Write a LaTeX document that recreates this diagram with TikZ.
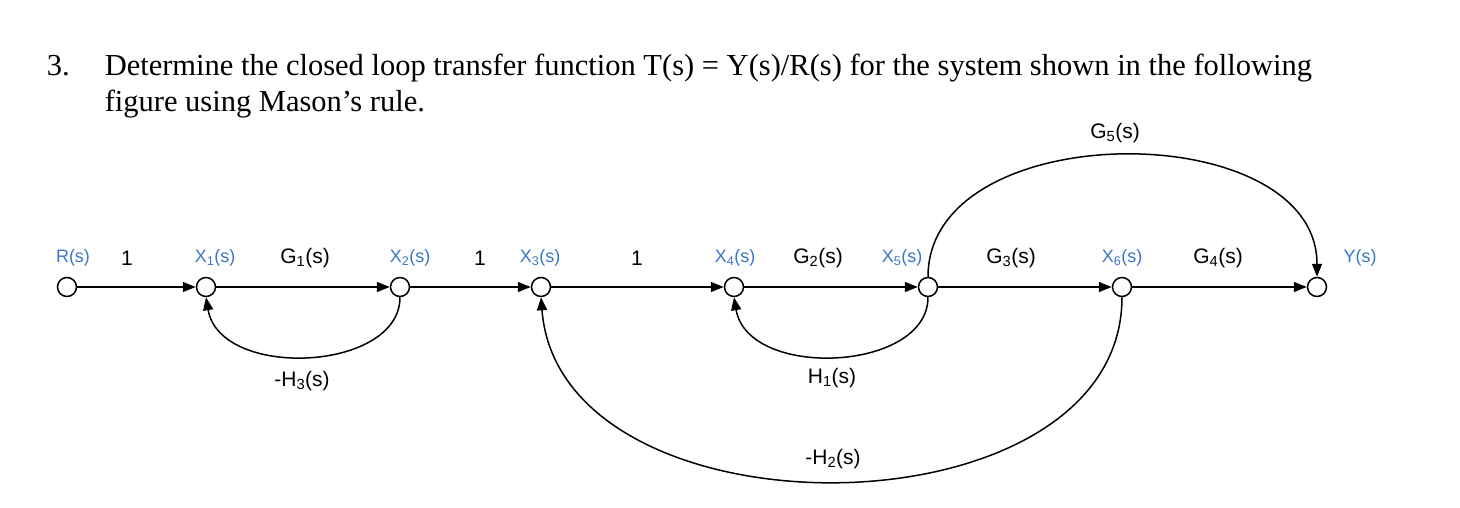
\documentclass[tikz,border=0pt]{standalone}
\usepackage{fontspec}
\setmainfont{Liberation Serif}
\newfontfamily\diagf{Liberation Sans}
\usetikzlibrary{arrows.meta}
\definecolor{lblue}{HTML}{3A76C9}
\begin{document}
\begin{tikzpicture}[x=1pt,y=-1pt,line width=1.5pt,
  sn/.style={circle,draw,line width=1.5pt,fill=white,minimum size=19pt,inner sep=0pt},
  br/.style={line width=1.5pt,-{Triangle[length=13pt,width=10pt]}},
  nl/.style={font=\diagf\fontsize{18}{20}\selectfont,text=lblue},
  gl/.style={font=\diagf\fontsize{21}{24}\selectfont}]
\useasboundingbox (0,0) rectangle (1460,508);
\node[anchor=base west,font=\fontsize{30.5}{33}\selectfont,inner sep=0pt] (n3) at (46,76) {3.};
\node[anchor=base west,font=\fontsize{30.5}{33}\selectfont,inner sep=0pt] (t1) at (104,76) {Determine the closed loop transfer function T(s) = Y(s)/R(s) for the system shown in the following};
\node[anchor=base west,font=\fontsize{30.5}{33}\selectfont,inner sep=0pt] (t2) at (104,112) {figure using Mason’s rule.};
\node[sn] (R) at (67,287) {};
\node[sn] (X1) at (206,287) {};
\node[sn] (X2) at (400,287) {};
\node[sn] (X3) at (541,287) {};
\node[sn] (X4) at (734,287) {};
\node[sn] (X5) at (928,287) {};
\node[sn] (X6) at (1122,287) {};
\node[sn] (Y) at (1317,287) {};
\draw[br] (R) -- (X1);
\draw[br] (X1) -- (X2);
\draw[br] (X2) -- (X3);
\draw[br] (X3) -- (X4);
\draw[br] (X4) -- (X5);
\draw[br] (X5) -- (X6);
\draw[br] (X6) -- (Y);
\draw[br] (X2.south) .. controls (400,372) and (220,380) .. (X1.south);
\draw[br] (X5.south) .. controls (928,372) and (748,380) .. (X4.south);
\draw[br] (X6.south) .. controls (1122,540) and (560,545) .. (X3.south);
\draw[br] (X5.north) .. controls (928,115) and (1317,115) .. (Y.north);
\node[nl] (lR) at (73,258) {R(s)};
\node[gl] (l1a) at (127,258) {1};
\node[nl] (l1) at (215,258) {X\textsubscript{1}(s)};
\node[gl] (g1) at (305,258) {G\textsubscript{1}(s)};
\node[nl] (l2) at (410,258) {X\textsubscript{2}(s)};
\node[gl] (l1b) at (480,258) {1};
\node[nl] (l3) at (540,258) {X\textsubscript{3}(s)};
\node[gl] (l1c) at (637,258) {1};
\node[nl] (l4) at (735,258) {X\textsubscript{4}(s)};
\node[gl] (g2) at (818,258) {G\textsubscript{2}(s)};
\node[nl] (l5) at (902,258) {X\textsubscript{5}(s)};
\node[gl] (g3) at (1011,258) {G\textsubscript{3}(s)};
\node[nl] (l6) at (1122,258) {X\textsubscript{6}(s)};
\node[gl] (g4) at (1218,258) {G\textsubscript{4}(s)};
\node[nl] (lY) at (1360,258) {Y(s)};
\node[gl] (g5) at (1115,133) {G\textsubscript{5}(s)};
\node[gl] (h3) at (302,381) {-H\textsubscript{3}(s)};
\node[gl] (h1) at (832,378) {H\textsubscript{1}(s)};
\node[gl] (h2) at (833,459) {-H\textsubscript{2}(s)};
\end{tikzpicture}
\end{document}
